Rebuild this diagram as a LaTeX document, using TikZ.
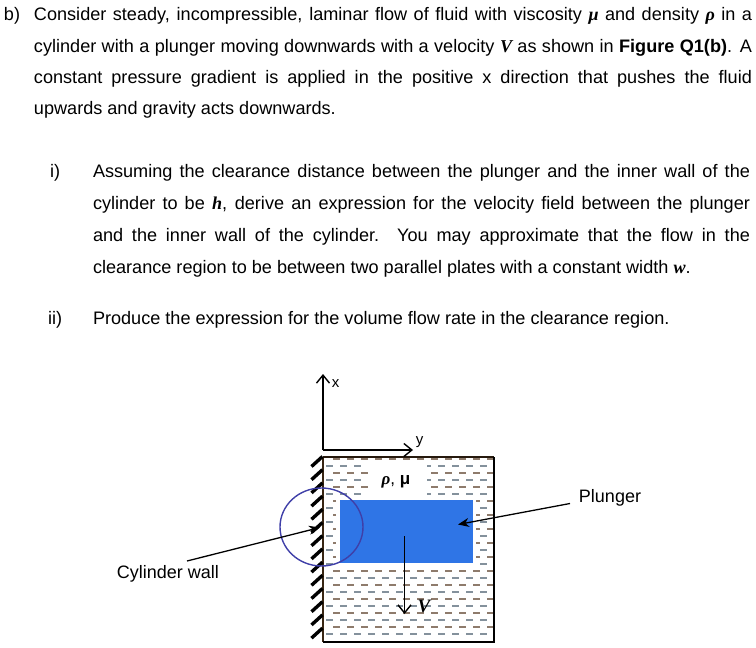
\documentclass[tikz,border=0pt]{standalone}
\usepackage{fontspec}
\setmainfont{Liberation Sans}
\newfontfamily\mathserif[BoldItalicFont={Liberation Serif Bold Italic}]{Liberation Serif}
\usetikzlibrary{arrows.meta,shapes.geometric}
\definecolor{dashbrown}{HTML}{8E7B6C}
\definecolor{dashblue}{HTML}{84919C}
\definecolor{plungerblue}{HTML}{2F75E6}
\definecolor{ringblue}{HTML}{3F3FA8}
\newcommand{\sym}[1]{{\mathserif\bfseries\itshape #1}}
\newcommand{\jl}[2]{\hbox to #1pt{#2}}
\tikzset{
  x=1pt,y=-1pt,
  txt/.style={anchor=base west,inner sep=0pt,outer sep=0pt,font=\fontsize{18.1}{20}\selectfont},
  lbl/.style={inner sep=0pt,outer sep=0pt,font=\fontsize{18}{20}\selectfont},
  axis/.style={draw=black,line width=1.5pt,-{Straight Barb[length=8pt,width=13pt,line width=1.4pt]}},
  pointer/.style={draw=black,line width=1.3pt,-{Stealth[length=11pt,width=9pt]}},
  hatch/.style={draw=black,line width=3.4pt},
  fluiddash/.style={line width=1.2pt},
}
\begin{document}
\begin{tikzpicture}
\useasboundingbox (0,0) rectangle (756,648);
% text
\node[txt] (b) at (4,20) {b)};
\node[txt] (l1) at (34,20) {\jl{718}{Consider steady, incompressible, laminar flow of fluid with viscosity \sym{μ} and density \sym{ρ} in a}};
\node[txt] (l2) at (34,52) {\jl{718}{cylinder with a plunger moving downwards with a velocity \sym{V} as shown in \textbf{Figure Q1(b)}. A}};
\node[txt] (l3) at (34,83) {\jl{718}{constant pressure gradient is applied in the positive x direction that pushes the fluid}};
\node[txt] (l4) at (34,114.5) {upwards and gravity acts downwards.};
\node[txt] (i) at (50,177) {i)};
\node[txt] (m1) at (93,177) {\jl{657}{Assuming the clearance distance between the plunger and the inner wall of the}};
\node[txt] (m2) at (93,209) {\jl{657}{cylinder to be \sym{h}, derive an expression for the velocity field between the plunger}};
\node[txt] (m3) at (93,241) {\jl{657}{and the inner wall of the cylinder. You may approximate that the flow in the}};
\node[txt] (m4) at (93,273) {clearance region to be between two parallel plates with a constant width \sym{w}.};
\node[txt] (ii) at (48,324.5) {ii)};
\node[txt] (n1) at (93,324.5) {Produce the expression for the volume flow rate in the clearance region.};
% fluid dashes
\foreach \k in {0,...,25}{
  \pgfmathtruncatemacro{\odd}{mod(\k,2)}
  \pgfmathsetmacro{\yy}{459+7*\k}
  \ifnum\odd=0
    \foreach \xx in {333,347,...,487}{
      \draw[fluiddash,dashbrown] (\xx,\yy) -- (\xx+6.5,\yy);
    }
  \else
    \foreach \xx in {326,340,...,480}{
      \draw[fluiddash,dashblue] (\xx,\yy) -- (\xx+6.5,\yy);
    }
  \fi
}
% clear areas round the plunger and the label
\fill[white] (368,463) rectangle (427,497);
\fill[white] (336,496) rectangle (476,567);
% container
\draw[draw=black!70!brown,line width=1.4pt] (323,457) -- (323,642);
\draw[draw=black!80!brown,line width=1.6pt] (323,457) -- (494,457);
\draw[draw=black,line width=1.8pt] (494,457) -- (494,642) -- (323,642);
% wall hatching
\foreach \k in {0,...,13}{
  \draw[hatch] (322.5,456.5+13.2*\k) -- (311.5,466.5+13.2*\k);
}
% plunger
\node[draw=none,fill=plungerblue,minimum width=132.5pt,minimum height=63pt,inner sep=0pt,anchor=north west] (plunger) at (340,500) {};
% circle
\node[draw=ringblue,line width=1.4pt,ellipse,minimum width=83pt,minimum height=78pt,inner sep=0pt] (ring) at (321.5,527) {};
% axes
\coordinate (origin) at (323,450);
\coordinate (xend) at (323,374);
\coordinate (yend) at (413,450);
\draw[axis] (origin) -- (xend);
\draw[axis] (origin) -- (yend);
\node[lbl,font=\fontsize{15}{17}\selectfont] (xlab) at (335.5,384) {x};
\node[lbl,font=\fontsize{15}{17}\selectfont] (ylab) at (419.5,442) {y};
\node[lbl,font=\fontsize{17}{19}\selectfont] (rho) at (396,481.5) {\sym{ρ}, \textbf{μ}};
% velocity
\coordinate (vstart) at (404.5,536);
\coordinate (vend) at (404.5,614);
\draw[axis] (vstart) -- (vend);
\node[lbl,font=\fontsize{19}{21}\selectfont] (vlab) at (424,606) {\sym{V}};
% labels and pointers
\node[lbl] (plab) at (610,498) {Plunger};
\node[lbl] (cyl) at (168,574) {Cylinder wall};
\coordinate (ptip) at (458,524.5);
\coordinate (ctip) at (320,527.5);
\draw[pointer] (570,503.5) -- (ptip);
\draw[pointer] (187,561) -- (ctip);
\end{tikzpicture}
\end{document}
